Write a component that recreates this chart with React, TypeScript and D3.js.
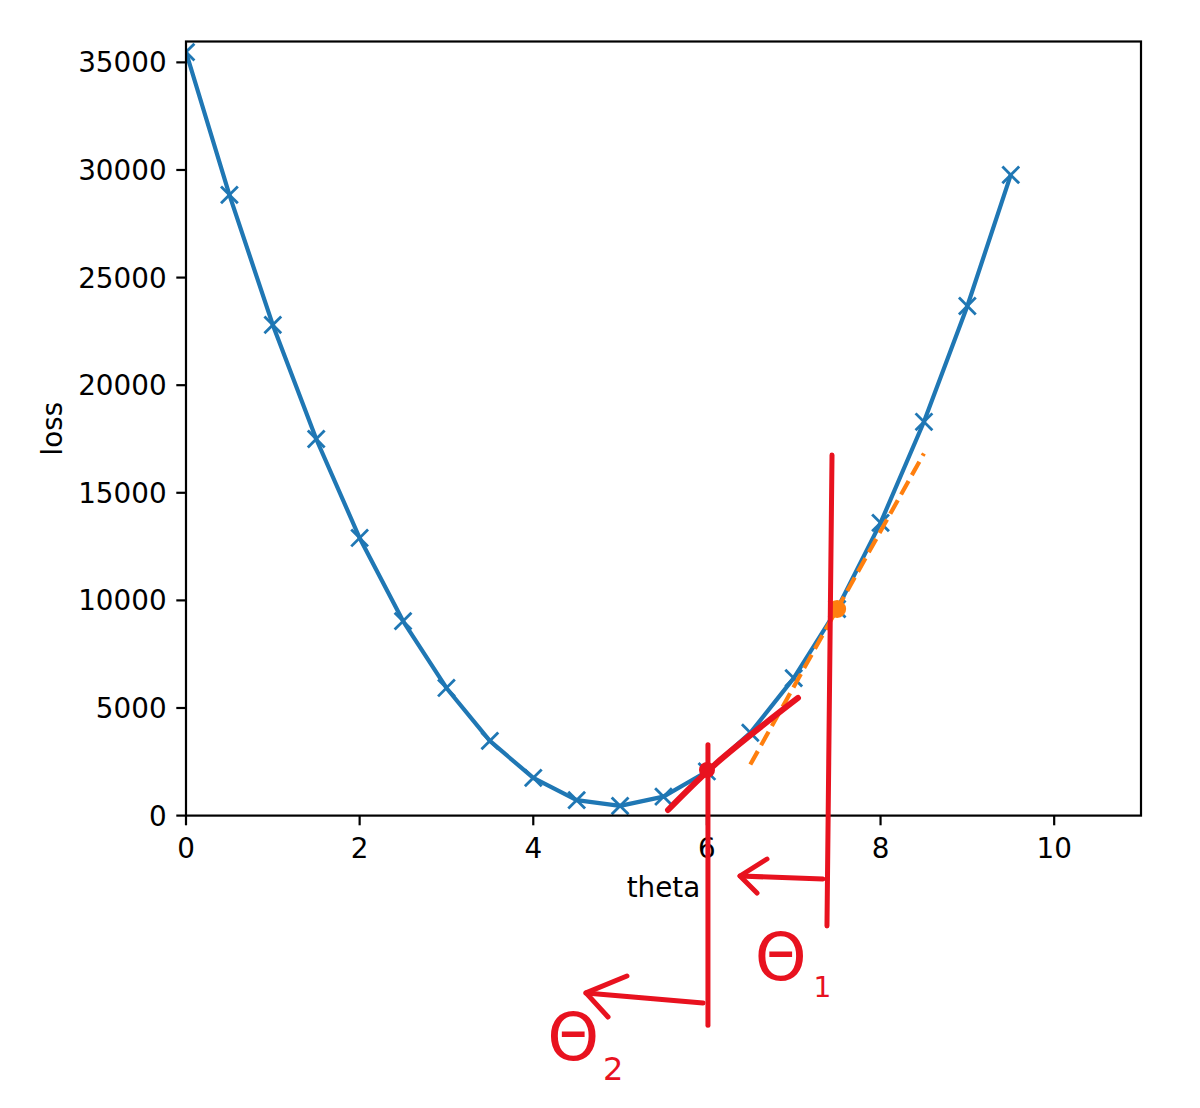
import React from "react";
import * as d3 from "d3";

// ---- data ----
const thetaValues = [0, 0.5, 1, 1.5, 2, 2.5, 3, 3.5, 4, 4.5, 5, 5.5, 6, 6.5, 7, 7.5, 8, 8.5, 9, 9.5];
const lossValues = [35480, 28840, 22800, 17500, 12900, 9040, 5930, 3470, 1750, 720, 450, 880, 2050, 3850, 6390, 9600, 13600, 18300, 23680, 29770];
const xTicks = [0, 2, 4, 6, 8, 10];
const yTicks = [0, 5000, 10000, 15000, 20000, 25000, 30000, 35000];
const currentPoint = { theta: 7.5, loss: 9600 };
const tangentTheta = [6.5, 8.5];
const tangentLoss = [2370, 16830];

// hand-drawn annotations (data units)
const redVertical1 = [[7.441, 16760], [7.383, -5130]];
const redVertical2 = [[6.012, 3290], [6.012, -9740]];
const redTangent = [[5.552, 260], [6.1, 2400], [7.049, 5465]];
const redDot = [6.001, 2120];
const arrow1Shaft = [[7.337, -2946], [6.381, -2807]];
const arrow1Head = [[6.692, -2017], [6.381, -2807], [6.577, -3597]];
const arrow2Shaft = [[5.955, -8704], [4.607, -8240]];
const arrow2Head = [[5.079, -7453], [4.607, -8240], [4.861, -9359]];
const thetaLabels = [
  { text: "Θ", x: 6.85, y: -7638, size: 66 },
  { text: "1", x: 7.33, y: -8428, size: 28 },
  { text: "Θ", x: 4.46, y: -11355, size: 66 },
  { text: "2", x: 4.92, y: -12284, size: 32 },
];

export default function App() {
  const W = 1200, H = 1108;
  const left = 186, right = 1141, top = 41.5, bottom = 815.6;
  const x = d3.scaleLinear().domain([0, 11]).range([left, right]);
  const y = d3.scaleLinear().domain([0, 35970]).range([bottom, top]);
  const font = "'DejaVu Sans', sans-serif";
  const fs = 27.8;
  const tickLen = 9.7;
  const blue = "#1f77b4";
  const orange = "#ff7f0e";
  const red = "#e8121f";

  const pts = thetaValues.map((t, i) => [t, lossValues[i]] as [number, number]);
  const line = d3.line<[number, number]>().x(d => x(d[0])).y(d => y(d[1]));
  const curve = d3.line<number[]>().x(d => x(d[0])).y(d => y(d[1])).curve(d3.curveCatmullRom);
  const straight = d3.line<number[]>().x(d => x(d[0])).y(d => y(d[1]));
  const tangentPts = tangentTheta.map((t, i) => [t, tangentLoss[i]] as [number, number]);
  const m = 8.4;

  return (
    <div style={{ position: "absolute", left: 0, top: 0 }}>
      <svg width={W} height={H} style={{ display: "block", background: "#fff" }}>
        <defs>
          <clipPath id="axclip">
            <rect x={left} y={top} width={right - left} height={bottom - top} />
          </clipPath>
        </defs>
        <rect x={0} y={0} width={W} height={H} fill="#fff" />
        <g clipPath="url(#axclip)">
          <path d={line(pts) || ""} fill="none" stroke={blue} strokeWidth={4.2} strokeLinejoin="round" />
          {pts.map((p, i) => (
            <g key={i} stroke={blue} strokeWidth={2.8}>
              <line x1={x(p[0]) - m} y1={y(p[1]) - m} x2={x(p[0]) + m} y2={y(p[1]) + m} />
              <line x1={x(p[0]) - m} y1={y(p[1]) + m} x2={x(p[0]) + m} y2={y(p[1]) - m} />
            </g>
          ))}
          <path d={line(tangentPts) || ""} fill="none" stroke={orange} strokeWidth={4.2} strokeDasharray="15.4 6.7" />
          <circle cx={x(currentPoint.theta)} cy={y(currentPoint.loss)} r={9} fill={orange} />
        </g>
        {/* spines */}
        <rect x={left} y={top} width={right - left} height={bottom - top} fill="none" stroke="#000" strokeWidth={2.2} />
        {/* x ticks */}
        {xTicks.map(t => (
          <g key={"x" + t}>
            <line x1={x(t)} x2={x(t)} y1={bottom} y2={bottom + tickLen} stroke="#000" strokeWidth={2.2} />
            <text x={x(t)} y={bottom + tickLen + 9.7 + 23} textAnchor="middle" fontFamily={font} fontSize={fs} fill="#000">{t}</text>
          </g>
        ))}
        {yTicks.map(t => (
          <g key={"y" + t}>
            <line x1={left - tickLen} x2={left} y1={y(t)} y2={y(t)} stroke="#000" strokeWidth={2.2} />
            <text x={left - tickLen - 9.7} y={y(t)} dy="0.36em" textAnchor="end" fontFamily={font} fontSize={fs} fill="#000">{t}</text>
          </g>
        ))}
        <text x={(left + right) / 2} y={897} textAnchor="middle" fontFamily={font} fontSize={fs} fill="#000">theta</text>
        <text transform={`translate(61.5, ${(top + bottom) / 2}) rotate(-90)`} textAnchor="middle" fontFamily={font} fontSize={fs} fill="#000">loss</text>

        {/* red hand-drawn annotations */}
        <g stroke={red} strokeWidth={5} fill="none" strokeLinecap="round" strokeLinejoin="round">
          <path d={straight(redVertical1) || ""} />
          <path d={straight(redVertical2) || ""} />
          <path d={curve(redTangent) || ""} strokeWidth={6} />
          <path d={straight(arrow1Shaft) || ""} />
          <path d={straight(arrow1Head) || ""} />
          <path d={straight(arrow2Shaft) || ""} />
          <path d={straight(arrow2Head) || ""} />
        </g>
        <circle cx={x(redDot[0])} cy={y(redDot[1])} r={8} fill={red} />
        {thetaLabels.map((l, i) => (
          <text key={i} x={x(l.x)} y={y(l.y)} textAnchor="middle" fontFamily={font} fontSize={l.size} fill={red}>{l.text}</text>
        ))}
      </svg>
    </div>
  );
}
